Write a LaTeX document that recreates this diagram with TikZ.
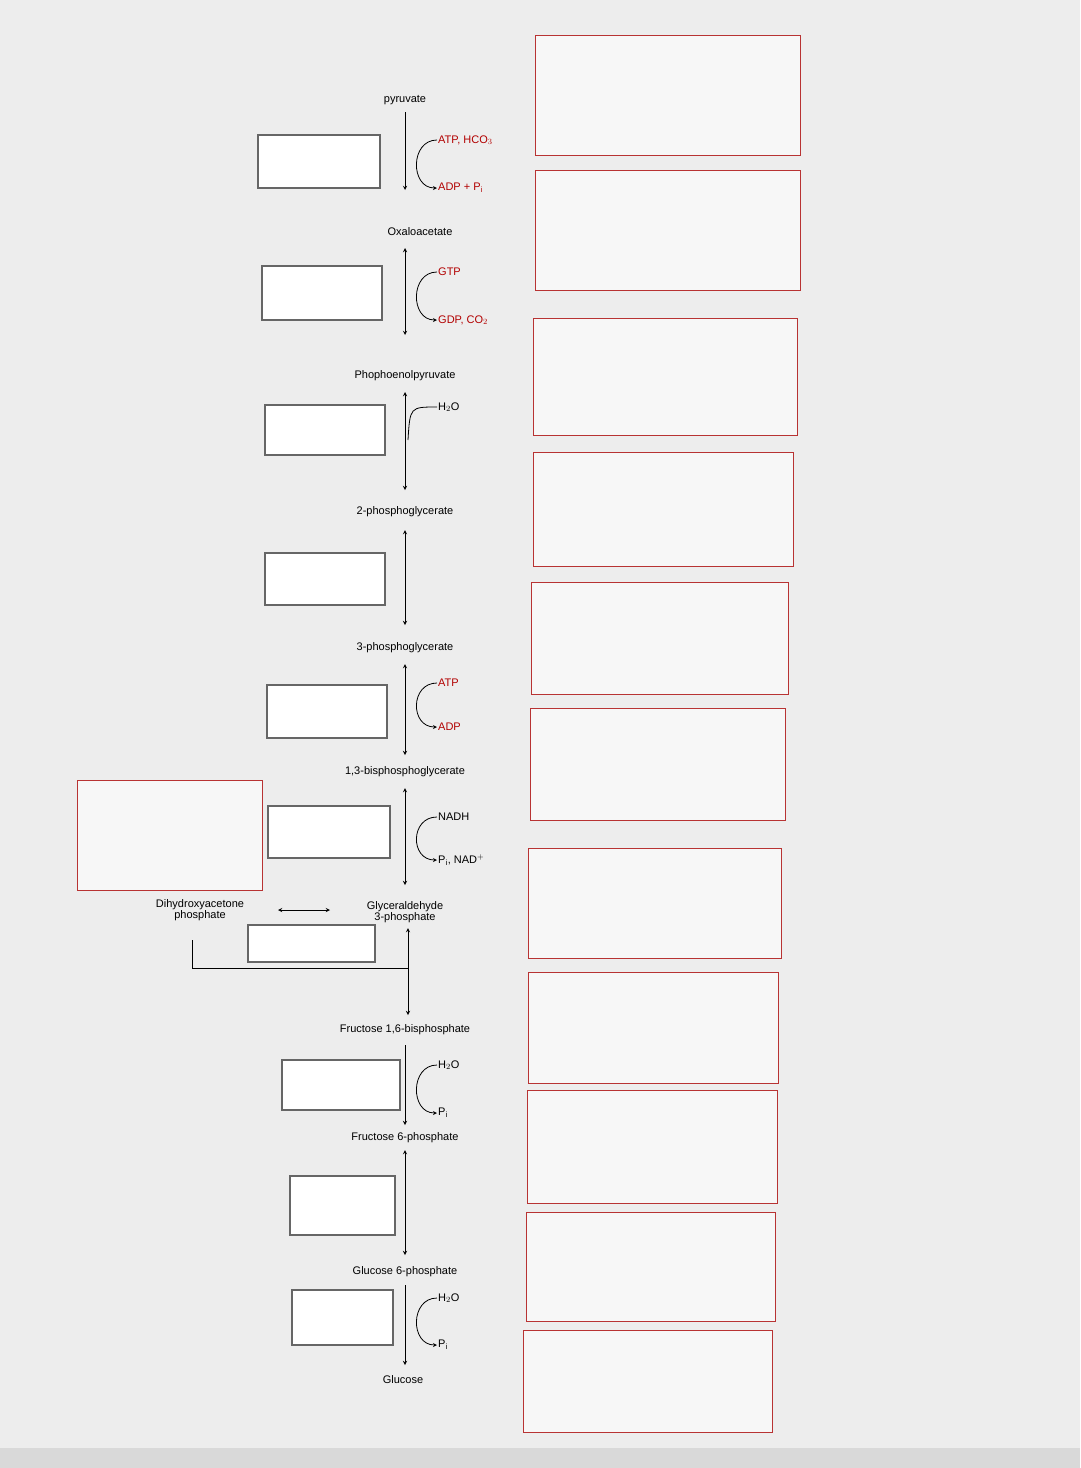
\documentclass[tikz,border=0pt]{standalone}
\usepackage{fontspec}
\setmainfont{Liberation Sans}
\begin{document}
\begin{tikzpicture}[x=1pt,y=-1pt,
  gbox/.style={draw=gray!80!black,line width=1.2pt,fill=white},
  rbox/.style={draw=red!65!black!80,line width=0.8pt,fill=gray!6},
  lbl/.style={font=\fontsize{11}{12}\selectfont,inner sep=1pt,align=center},
  rl/.style={lbl,text=red!70!black},
  rx/.style={line width=0.9pt,-stealth},
  bi/.style={line width=0.9pt,stealth-stealth}]
\fill[gray!14] (0,0) rectangle (1080,1468);
\fill[gray!30] (0,1448) rectangle (1080,1468);
\useasboundingbox (0,0) rectangle (1080,1468);
% right red boxes
\foreach \a/\b/\c/\d [count=\i] in {535/35/800/155,535/170/800/290,533/318/797/435,533/452/793/566,531/582/788/694,530/708/785/820,528/848/781/958,528/972/778/1083,527/1090/777/1203,526/1212/775/1321,523/1330/772/1432}
  \draw[rbox] (\a,\b) rectangle (\c,\d) node[coordinate](r\i){};
\draw[rbox] (77,780) rectangle (262,890);
% grey boxes
\foreach \a/\b/\c/\d [count=\i] in {258/135/380/188,262/266/382/320,265/405/385/455,265/553/385/605,267/685/387/738,268/806/390/858,248/925/375/962,282/1060/400/1110,290/1176/395/1235,292/1290/393/1345}
  \draw[gbox] (\a,\b) rectangle (\c,\d) node[coordinate](g\i){};
% labels
\node[lbl] (m1) at (405,100) {pyruvate};
\node[lbl] (m2) at (420,232) {Oxaloacetate};
\node[lbl] (m3) at (405,376) {Phophoenolpyruvate};
\node[lbl] (m4) at (405,512) {2-phosphoglycerate};
\node[lbl] (m5) at (405,648) {3-phosphoglycerate};
\node[lbl] (m6) at (405,772) {1,3-bisphosphoglycerate};
\node[lbl,font=\fontsize{11}{10}\selectfont] (m7) at (405,912) {Glyceraldehyde\\3-phosphate};
\node[lbl,font=\fontsize{11}{10}\selectfont] (dh) at (200,910) {Dihydroxyacetone\\phosphate};
\node[lbl] (m8) at (405,1030) {Fructose 1,6-bisphosphate};
\node[lbl] (m9) at (405,1138) {Fructose 6-phosphate};
\node[lbl] (m10) at (405,1272) {Glucose 6-phosphate};
\node[lbl] (m11) at (403,1380) {Glucose};
% vertical arrows
\coordinate (a1) at (405,112); \coordinate (b1) at (405,190);
\coordinate (a2) at (405,248); \coordinate (b2) at (405,335);
\coordinate (a3) at (405,392); \coordinate (b3) at (405,490);
\coordinate (a4) at (405,530); \coordinate (b4) at (405,625);
\coordinate (a5) at (405,664); \coordinate (b5) at (405,755);
\coordinate (a6) at (405,788); \coordinate (b6) at (405,885);
\coordinate (a7) at (408,928); \coordinate (b7) at (408,1015);
\coordinate (a8) at (405,1045); \coordinate (b8) at (405,1125);
\coordinate (a9) at (405,1150); \coordinate (b9) at (405,1255);
\coordinate (a10) at (405,1285); \coordinate (b10) at (405,1365);
\draw[rx] (a1)--(b1);
\foreach \i in {2,...,7,9} \draw[bi] (a\i)--(b\i);
\draw[rx] (a8)--(b8);
\draw[rx] (a10)--(b10);
% bracket
\coordinate (k1) at (192,940); \coordinate (k2) at (192,968); \coordinate (k3) at (408,968);
\draw[line width=0.8pt] (k1)--(k2)--(k3);
% double arrow
\coordinate (d1) at (278,910); \coordinate (d2) at (330,910);
\draw[bi] (d1)--(d2);
% side reactions
\newcommand{\side}[5]{% y1 y2 top bottom style
  \node[#5,anchor=west] (t#1) at (437,#1) {#3};
  \node[#5,anchor=west] (u#1) at (437,#2) {#4};
  \draw[line width=0.8pt,-stealth] (t#1.west) .. controls (410,#1) and (410,#2) .. (u#1.west);}
\side{140}{188}{ATP, HCO$_3$}{ADP + P$_\mathrm{i}$}{rl}
\side{272}{320}{GTP}{GDP, CO$_2$}{rl}
\side{683}{727}{ATP}{ADP}{rl}
\side{817}{860}{NADH}{P$_\mathrm{i}$, NAD$^+$}{lbl}
\side{1065}{1113}{H$_2$O}{P$_\mathrm{i}$}{lbl}
\side{1298}{1345}{H$_2$O}{P$_\mathrm{i}$}{lbl}
\node[lbl,anchor=west] (h3) at (437,407) {H$_2$O};
\draw[line width=0.8pt] (h3.west) .. controls (410,407) .. (408,440);
\end{tikzpicture}
\end{document}
